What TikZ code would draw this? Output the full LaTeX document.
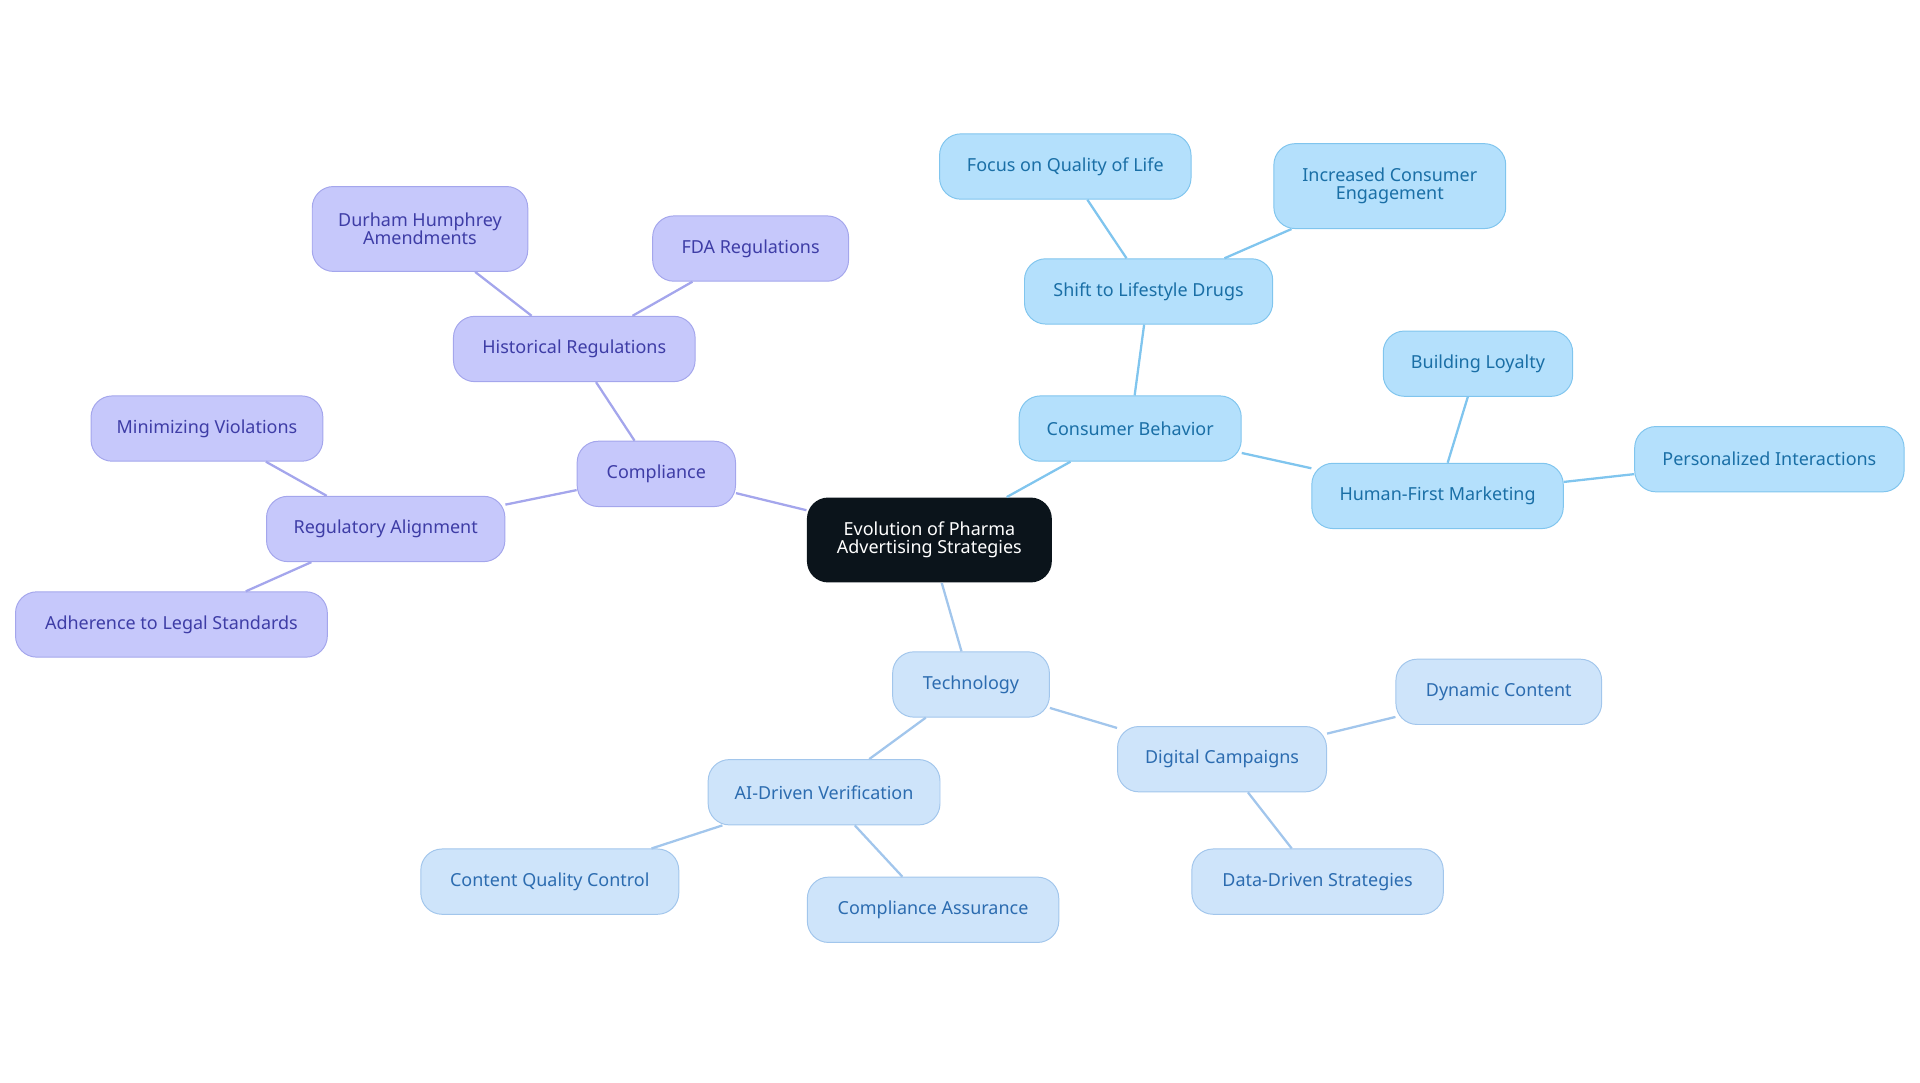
\documentclass[tikz,border=0pt]{standalone}
\usepackage{fontspec}
\setmainfont{Noto Sans}
\definecolor{pf}{HTML}{C6C8FB}\definecolor{pd}{HTML}{A4A6EC}\definecolor{pt}{HTML}{3E3DA6}
\definecolor{bf}{HTML}{B4E0FC}\definecolor{bd}{HTML}{80C5EE}\definecolor{bt}{HTML}{1A6FA6}
\definecolor{tf}{HTML}{CEE4FA}\definecolor{td}{HTML}{A2C6EC}\definecolor{tt}{HTML}{2C6CB0}
\definecolor{cf}{HTML}{0B141B}
\begin{document}
\begin{tikzpicture}[x=0.75pt,y=-0.75pt,
 base/.style={rounded corners=13pt,minimum height=40pt,align=center,font=\fontsize{11}{11}\selectfont,inner sep=2pt,line width=0.6pt},
 pn/.style={base,fill=pf,draw=pd,text=pt},
 bn/.style={base,fill=bf,draw=bd,text=bt},
 tn/.style={base,fill=tf,draw=td,text=tt},
 pe/.style={draw=pd,line width=1.4pt},
 be/.style={draw=bd,line width=1.4pt},
 te/.style={draw=td,line width=1.4pt}]
\useasboundingbox (0,0) rectangle (1568,884);
\node[base,fill=cf,text=white,minimum width=150pt,minimum height=52pt] (c) at (759,441) {Evolution of Pharma\\Advertising Strategies};
\node[pn,minimum width=97pt] (comp) at (536,387) {Compliance};
\node[pn,minimum width=148pt] (hist) at (469,285) {Historical Regulations};
\node[pn,minimum width=132pt,minimum height=52pt] (dur) at (343,187) {Durham Humphrey\\Amendments};
\node[pn,minimum width=120pt] (fda) at (613,203) {FDA Regulations};
\node[pn,minimum width=146pt] (reg) at (315,432) {Regulatory Alignment};
\node[pn,minimum width=142pt] (min) at (169,350) {Minimizing Violations};
\node[pn,minimum width=191pt] (adh) at (140,510) {Adherence to Legal Standards};
\node[bn,minimum width=136pt] (cons) at (923,350) {Consumer Behavior};
\node[bn,minimum width=152pt] (shift) at (938,238) {Shift to Lifestyle Drugs};
\node[bn,minimum width=154pt] (focus) at (870,136) {Focus on Quality of Life};
\node[bn,minimum width=142pt,minimum height=52pt] (inc) at (1135,152) {Increased Consumer\\Engagement};
\node[bn,minimum width=154pt] (hum) at (1174,405) {Human-First Marketing};
\node[bn,minimum width=116pt] (loy) at (1207,297) {Building Loyalty};
\node[bn,minimum width=165pt] (pers) at (1445,375) {Personalized Interactions};
\node[tn,minimum width=96pt] (tech) at (793,559) {Technology};
\node[tn,minimum width=128pt] (dig) at (998,620) {Digital Campaigns};
\node[tn,minimum width=126pt] (dyn) at (1224,565) {Dynamic Content};
\node[tn,minimum width=154pt] (data) at (1076,720) {Data-Driven Strategies};
\node[tn,minimum width=142pt] (ai) at (673,647) {AI-Driven Verification};
\node[tn,minimum width=158pt] (cqc) at (449,720) {Content Quality Control};
\node[tn,minimum width=154pt] (ca) at (762,743) {Compliance Assurance};
\begin{scope}[on background layer/.style={}]
\end{scope}
\draw[pe] (c) -- (comp); \draw[pe] (comp) -- (hist); \draw[pe] (hist) -- (dur); \draw[pe] (hist) -- (fda);
\draw[pe] (comp) -- (reg); \draw[pe] (reg) -- (min); \draw[pe] (reg) -- (adh);
\draw[be] (c) -- (cons); \draw[be] (cons) -- (shift); \draw[be] (shift) -- (focus); \draw[be] (shift) -- (inc);
\draw[be] (cons) -- (hum); \draw[be] (hum) -- (loy); \draw[be] (hum) -- (pers);
\draw[te] (c) -- (tech); \draw[te] (tech) -- (dig); \draw[te] (dig) -- (dyn); \draw[te] (dig) -- (data);
\draw[te] (tech) -- (ai); \draw[te] (ai) -- (cqc); \draw[te] (ai) -- (ca);
\end{tikzpicture}
\end{document}
